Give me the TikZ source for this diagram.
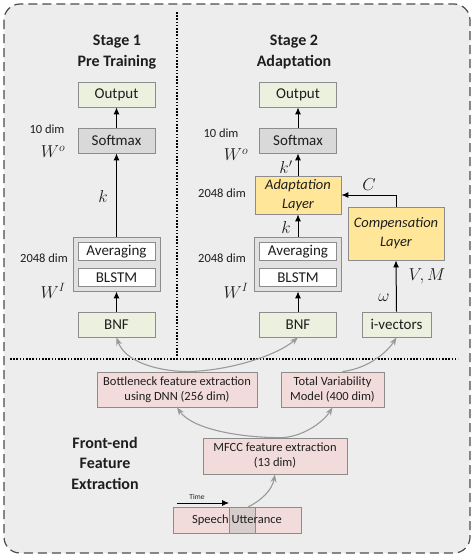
\documentclass[tikz,border=0pt]{standalone}
\usepackage{fontspec}
\setmainfont{Carlito}
\usetikzlibrary{arrows.meta}
\definecolor{bg}{HTML}{EDEDED}
\definecolor{grn}{HTML}{EBF1DE}
\definecolor{smx}{HTML}{D9D9D9}
\definecolor{yel}{HTML}{FFE699}
\definecolor{pnk}{HTML}{F2DCDB}
\definecolor{bord}{HTML}{8C8C8C}
\definecolor{arr}{HTML}{9A9A9A}
\definecolor{txt}{HTML}{1E1E1E}
\definecolor{seg}{HTML}{D8CDCD}
\begin{document}
\begin{tikzpicture}[x=1pt,y=-1pt,
  box/.style={draw=bord, line width=0.8pt, minimum width=77pt, minimum height=25pt, inner sep=0pt, text=txt, font=\fontsize{15}{16}\selectfont},
  gbox/.style={box, fill=grn},
  sbox/.style={box, fill=smx},
  wbox/.style={box, fill=white, minimum height=18pt},
  cbox/.style={draw=bord, line width=0.9pt, fill=bg!95!black, minimum width=87pt, minimum height=54pt, inner sep=0pt},
  ybox/.style={box, fill=yel, align=center, font=\itshape\fontsize{14.5}{19}\selectfont},
  pbox/.style={box, fill=pnk, align=center, font=\fontsize{12.5}{15}\selectfont},
  title/.style={align=center, text=txt, font=\bfseries\fontsize{16}{20.5}\selectfont},
  dimlab/.style={text=txt, font=\fontsize{12.5}{13}\selectfont},
  mlab/.style={text=txt, font=\fontsize{18}{18}\selectfont},
  blk/.style={-{Latex[length=7pt,width=6pt]}, line width=1pt, draw=black},
  garr/.style={-{Stealth[length=8pt,width=6pt]}, line width=1.1pt, draw=arr},
  dotline/.style={line width=1.6pt, dash pattern=on 1.6pt off 1.6pt}
]
\useasboundingbox (0,0) rectangle (474,560);
% outer frame
\draw[draw=black!70, line width=1.2pt, dash pattern=on 9pt off 5pt, rounded corners=16pt, fill=bg] (4,4) rectangle (470,553);
% separators
\draw[dotline] (177,12) -- (177,359);
\draw[dotline] (10,359) -- (458,359);

% titles
\node[title] (t1) at (117,52) {Stage 1\\Pre Training};
\node[title] (t2) at (294,52) {Stage 2\\Adaptation};

% Stage 1
\node[gbox] (out1) at (116.5,94.5) {Output};
\node[sbox] (soft1) at (116.5,140.5) {Softmax};
\node[cbox] (cont1) at (116.5,264) {};
\node[wbox] (avg1) at (116.5,251.5) {Averaging};
\node[wbox] (bl1) at (116.5,277.5) {BLSTM};
\node[gbox] (bnf1) at (116.5,324.5) {BNF};
\draw[blk] (soft1.north) -- (out1.south);
\draw[blk] (cont1.north) -- (soft1.south);
\draw[blk] (bnf1.north) -- (cont1.south);
\node[dimlab] (d1a) at (47,129) {10 dim};
\node[dimlab] (d1b) at (44,258) {2048 dim};
\node[mlab] (wo1) at (53,152) {$W^{o}$};
\node[mlab] (wi1) at (53,291) {$W^{I}$};
\node[mlab] (k1) at (103,196) {$k$};

% Stage 2
\node[gbox] (out2) at (298,94.5) {Output};
\node[sbox] (soft2) at (298,140.5) {Softmax};
\node[ybox, minimum width=86pt, minimum height=38pt] (adapt) at (298,195) {Adaptation\\Layer};
\node[cbox] (cont2) at (298,264) {};
\node[wbox] (avg2) at (298,251.5) {Averaging};
\node[wbox] (bl2) at (298,277.5) {BLSTM};
\node[gbox] (bnf2) at (298,324.5) {BNF};
\node[ybox, minimum width=96pt, minimum height=53pt] (comp) at (396,233.5) {Compensation\\Layer};
\node[gbox, minimum width=69pt] (ivec) at (396.5,324.5) {i-vectors};
\draw[blk] (soft2.north) -- (out2.south);
\draw[blk] (adapt.north) -- (soft2.south);
\draw[blk] (cont2.north) -- (adapt.south);
\draw[blk] (bnf2.north) -- (cont2.south);
\draw[blk] (ivec.north) -- (comp.south);
\draw[blk] (comp.north) |- (adapt.east);
\node[dimlab] (d2a) at (221,133) {10 dim};
\node[dimlab] (d2b) at (222,193) {2048 dim};
\node[dimlab] (d2c) at (222,258) {2048 dim};
\node[mlab] (wo2) at (236,155) {$W^{o}$};
\node[mlab] (wi2) at (236,291) {$W^{I}$};
\node[mlab] (kp2) at (286,167) {$k'$};
\node[mlab] (k2) at (286,227) {$k$};
\node[mlab] (cl) at (369,185) {$C$};
\node[mlab] (vm) at (427,276) {$V,M$};
\node[mlab] (om) at (384,298) {$\omega$};

% Front-end
\node[title] (t3) at (105,463) {Front-end\\Feature\\Extraction};
\node[pbox, minimum width=160pt, minimum height=35pt] (bott) at (177,389.5) {Bottleneck feature extraction\\using DNN (256 dim)};
\node[pbox, minimum width=103pt, minimum height=35pt] (tvm) at (332.5,389.5) {Total Variability\\Model (400 dim)};
\node[pbox, minimum width=144pt, minimum height=36pt] (mfcc) at (275,456) {MFCC feature extraction\\(13 dim)};
\node[pbox, minimum width=128pt, minimum height=26pt] (speech) at (237,520) {};
\draw[draw=bord, line width=0.8pt, fill=seg] (229,507) rectangle (255,533);
\node[text=txt, font=\fontsize{12.5}{13}\selectfont] (speechtxt) at (speech.center) {Speech Utterance};
\coordinate (tA) at (177,503);
\coordinate (tB) at (229,503);
\draw[-{Latex[length=7pt,width=6pt]}, line width=0.8pt] (tA) -- (tB);
\node[text=txt, font=\fontsize{7.5}{8}\selectfont] (time) at (197,497) {Time};
\coordinate (segtop) at (248,507);

% gray curved arrows
\draw[garr] ([xshift=10pt]bott.north) .. controls (155,371) and (125,361) .. (bnf1.south);
\draw[garr] ([xshift=10pt]bott.north) .. controls (228,371) and (276,356) .. (bnf2.south);
\draw[garr] ([xshift=10pt]tvm.north) .. controls (370,368) and (388,351) .. (ivec.south);
\draw[garr] ([xshift=8pt]mfcc.north) .. controls (240,438) and (192,429) .. (bott.south);
\draw[garr] ([xshift=8pt]mfcc.north) .. controls (305,436) and (324,421) .. (tvm.south);
\draw[garr] (segtop) .. controls (262,500) and (272,490) .. (mfcc.south);
\end{tikzpicture}
\end{document}
